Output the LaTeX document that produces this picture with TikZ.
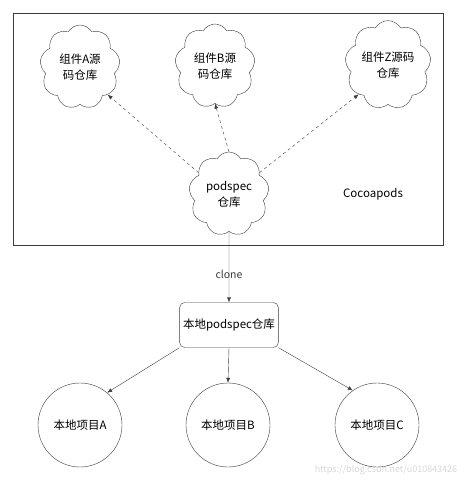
\documentclass[tikz,border=0pt]{standalone}
\usepackage{fontspec}
\setmainfont{Noto Sans CJK SC}
\usepackage{tikz}
\usetikzlibrary{shapes,shapes.symbols,arrows.meta,positioning,calc}
\definecolor{linegray}{RGB}{60,60,60}
\definecolor{markgray}{RGB}{215,215,215}

\begin{document}
\begin{tikzpicture}[
    x=1pt, y=-1pt,
    repo/.style={draw=linegray, cloud, cloud puffs=9, cloud puff arc=120, aspect=0.95,
        minimum width=80pt, minimum height=84pt, inner sep=0pt, align=center,
        font=\fontsize{11.5}{16}\selectfont},
    localbox/.style={draw=linegray, rounded corners=5pt, minimum width=95pt, minimum height=45pt,
        font=\fontsize{11.5}{13}\selectfont},
    project/.style={draw=linegray, circle, minimum size=84pt, inner sep=0pt,
        font=\fontsize{11.5}{13}\selectfont},
    dep/.style={-{Latex[length=5pt,width=4pt]}, linegray, dashed, thin},
    flow/.style={-{Latex[length=5pt,width=4pt]}, linegray, thin}
]
\useasboundingbox (0,0) rectangle (474,482);

% Cocoapods frame
\draw[linegray, semithick] (13,13) rectangle (443,245);
\node[font=\fontsize{11.5}{13}\selectfont] (cocoapods) at (373,194) {Cocoapods};

% source repos
\node[repo] (repoA) at (80,67) {组件A源\\码仓库};
\node[repo] (repoB) at (215,66) {组件B源\\码仓库};
\node[repo] (repoZ) at (388,65) {组件Z源码\\仓库};
\node[repo] (specs) at (229,194) {podspec\\仓库};

% local side
\node[localbox] (localspecs) at (229,325) {本地podspec仓库};
\node[project] (projA) at (80,425) {本地项目A};
\node[project] (projB) at (228,425) {本地项目B};
\node[project] (projC) at (377,425) {本地项目C};

% dashed links to source repos
\draw[dep] (specs.145) -- (repoA.-45);
\draw[dep] (specs.north) -- (repoB.south);
\draw[dep] (specs.35) -- (repoZ.-135);

% clone
\draw[flow] (specs.south) -- node[pos=0.6, text=linegray, font=\fontsize{10.5}{12}\selectfont] (clonelabel) {clone} (localspecs.north);

% local projects
\draw[flow] (localspecs.south west) -- (projA.50);
\draw[flow] (localspecs.south) -- (projB.north);
\draw[flow] (localspecs.south east) -- (projC.125);

% watermark
\node[markgray, font=\fontsize{9}{11}\selectfont] (mark) at (386,470) {https://blog.csdn.net/u010843426};
\end{tikzpicture}
\end{document}
